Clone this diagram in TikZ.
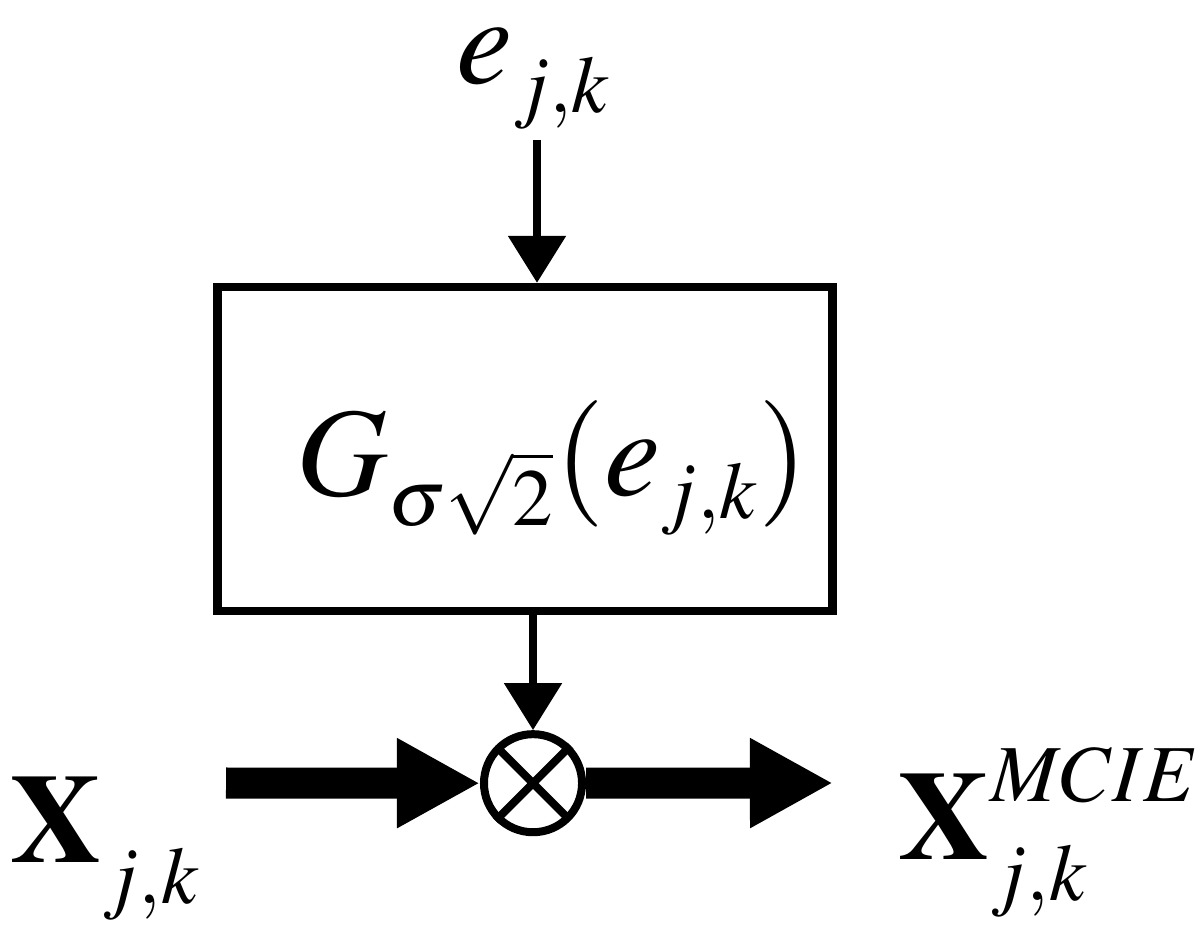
\documentclass[tikz,border=0pt]{standalone}
\usepackage{mathptmx}
\DeclareMathSizes{36}{36}{23}{18}
\usepackage{tikz}
\usetikzlibrary{positioning, arrows.meta, calc}
\newcommand{\jk}[1][0.15cm]{\raisebox{-#1}{$\scriptstyle j,k$}}

\begin{document}
\begin{tikzpicture}[x=0.01cm, y=-0.01cm, node distance=1.15cm, >={Triangle[length=0.47cm, width=0.56cm]}, every node/.style={font=\fontsize{36}{42}\selectfont}]
    \path [fill=white] (0,0) rectangle (1201,928);

    \node [draw, rectangle, line width=0.085cm, minimum width=6.145cm, minimum height=3.235cm, inner sep=0pt] (gauss) at (525,449) {};
    \node [anchor=base west, inner sep=0pt] (gausslabel) at (296,495) {$G_{\sigma\sqrt{2}}(e_{\jk[0.05cm]})$};
    \node [anchor=base west, inner sep=0pt] (err) at (456,84) {$e_{\jk[0.1cm]}$};
    \node [draw, circle, line width=0.08cm, minimum size=0.98cm, inner sep=0pt, below=of gauss, xshift=0.08cm] (mult) {};
    \node [anchor=base west, inner sep=0pt] (xin) at (10,862) {$\mathbf{X}_{\jk[0.22cm]}$};
    \node [anchor=base west, inner sep=0pt] (xout) at (898,859) {$\mathbf{X}_{\jk[0.1cm]}^{\raisebox{0.12cm}{$\scriptstyle MCIE$}}$};

    \coordinate (errend) at (537,140);
    \coordinate (xinend) at (226,783);
    \coordinate (xoutend) at (833,783);

    \draw [line width=0.08cm, shorten <=0.04cm, shorten >=0.04cm] (mult.45) -- (mult.225) (mult.135) -- (mult.315);
    \draw [->, line width=0.085cm] (errend) -- (errend |- gauss.north);
    \draw [->, line width=0.085cm] (gauss.south -| mult) -- (mult.north);
    \draw [-{Triangle[length=0.83cm, width=0.84cm]}, line width=0.31cm] (xinend) -- (mult.west);
    \draw [-{Triangle[length=0.83cm, width=0.84cm]}, line width=0.31cm] (mult.east) -- (xoutend);
\end{tikzpicture}
\end{document}
